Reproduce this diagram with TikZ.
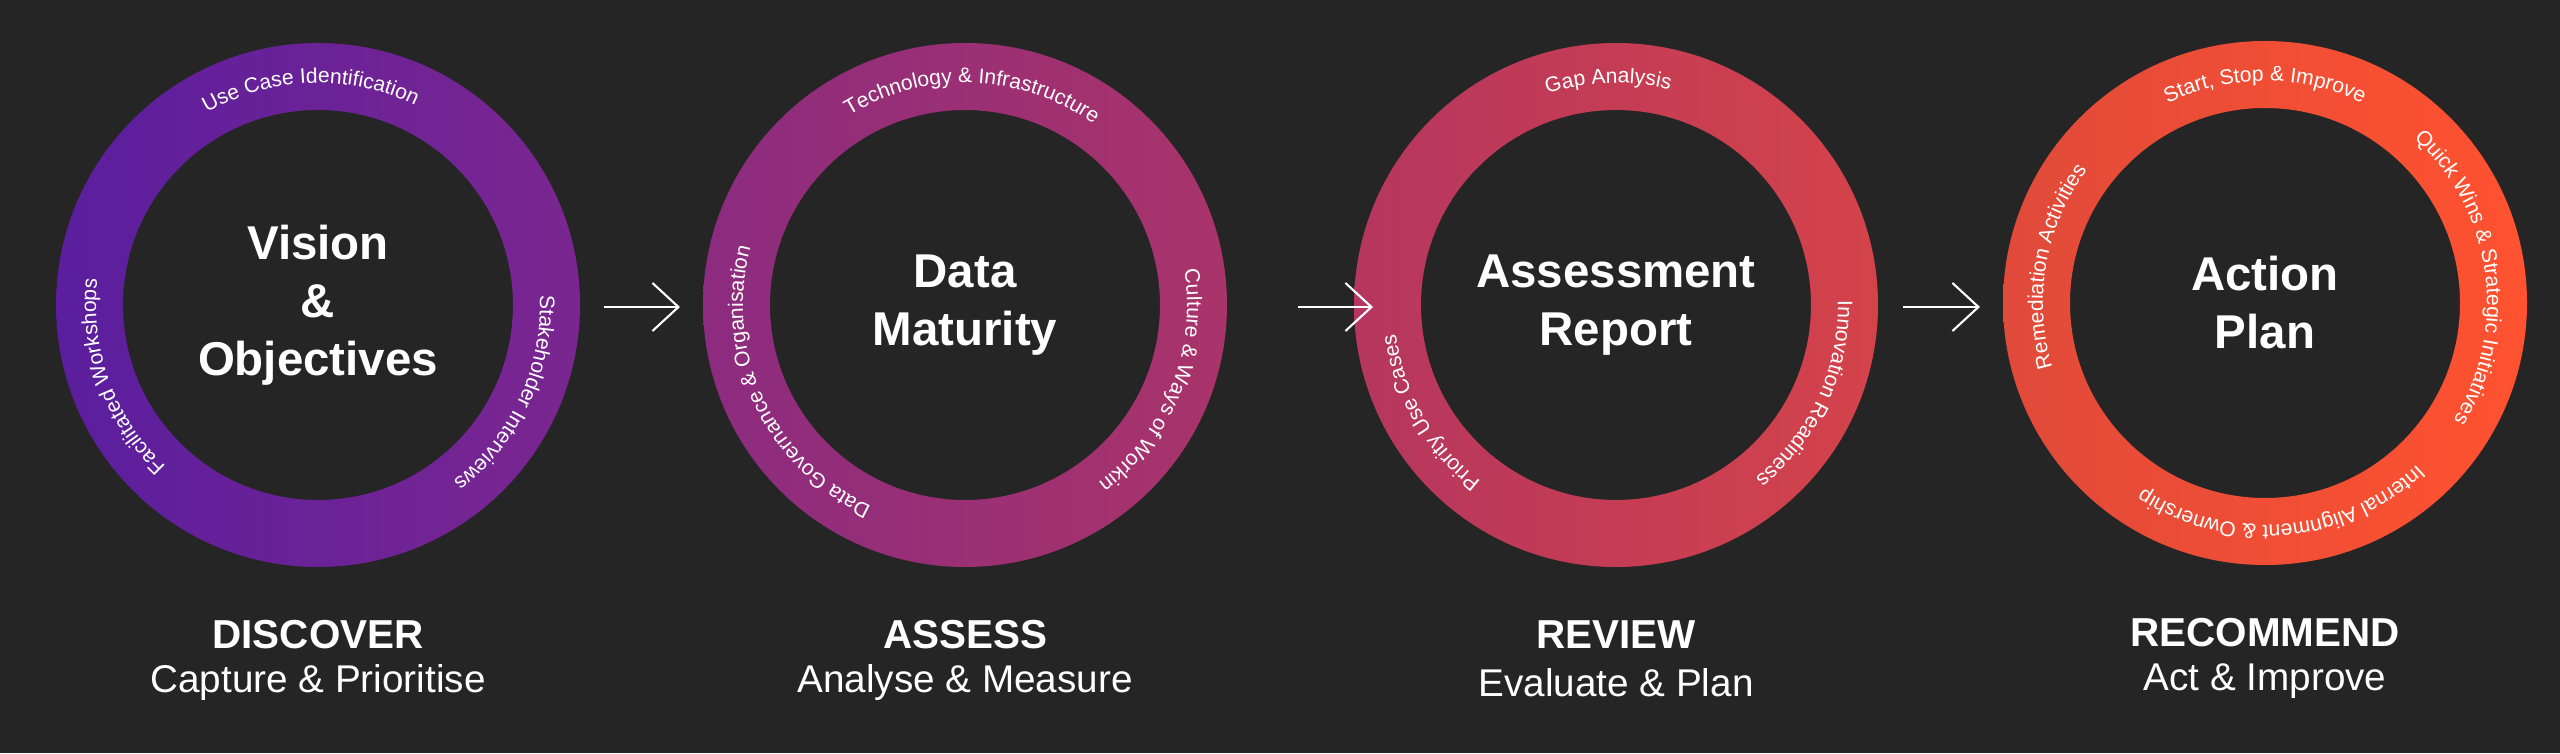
\documentclass[tikz,border=0pt]{standalone}
\usepackage{fontspec}
\setmainfont{Liberation Sans}
\usetikzlibrary{arrows.meta,decorations.text}
\definecolor{bg}{HTML}{252525}
\definecolor{r1l}{HTML}{5A1E9E}\definecolor{r1r}{HTML}{7B2690}
\definecolor{r2l}{HTML}{8C2B7F}\definecolor{r2r}{HTML}{A9346A}
\definecolor{r3l}{HTML}{B5365E}\definecolor{r3r}{HTML}{D4434A}
\definecolor{r4l}{HTML}{E04A3A}\definecolor{r4r}{HTML}{FF5230}
\tikzset{
  stepname/.style={text=white, font=\fontsize{11.5}{13}\selectfont\bfseries},
  stepsub/.style={text=white, font=\fontsize{11}{13}\selectfont},
  centretext/.style={text=white, align=center, font=\fontsize{13.5}{16.5}\selectfont\bfseries},
  flow/.style={white, line width=0.6pt, -{Straight Barb[length=0.26cm,width=0.48cm,line width=0.6pt]}}
}
\newcommand\ringfont{\fontsize{6}{7}\selectfont}
% ring with a horizontal gradient
\newcommand\drawring[3]{%
  \shade[left color=#2, right color=#3, even odd rule] (#1) circle (2.62) (#1) circle (1.95);}
% text on the ring, clockwise, centred at an angle
\newcommand\ringlabel[3]{%
  \pgfmathsetmacro\angA{#2+75}\pgfmathsetmacro\angB{#2-75}%
  \path[decorate, decoration={text along path, text align=center, text color=white, text={|\ringfont|#3}}]
    ([shift={(\angA:2.22)}]#1) arc[start angle=\angA, end angle=\angB, radius=2.22];}

\begin{document}
\begin{tikzpicture}
\fill[bg] (0,0) rectangle (25.6,7.53);
\useasboundingbox (0,0) rectangle (25.6,7.53);

\coordinate (c1) at (3.18,4.48);
\coordinate (c2) at (9.65,4.48);
\coordinate (c3) at (16.16,4.48);
\coordinate (c4) at (22.65,4.50);

\drawring{c1}{r1l}{r1r}
\drawring{c2}{r2l}{r2r}
\drawring{c3}{r3l}{r3r}
\drawring{c4}{r4l}{r4r}

\ringlabel{c1}{92}{Use Case Identification}
\ringlabel{c1}{-25}{Stakeholder Interviews}
\ringlabel{c1}{200}{Facilitated Workshops}
\ringlabel{c2}{88}{Technology {\&} Infrastructure}
\ringlabel{c2}{-22}{Culture {\&} Ways of Workin}
\ringlabel{c2}{205}{Data Governance {\&} Organisation}
\ringlabel{c3}{92}{Gap Analysis}
\ringlabel{c3}{-25}{Innovation Readiness}
\ringlabel{c3}{210}{Priority Use Cases}
\ringlabel{c4}{90}{Start, Stop {\&} Improve}
\ringlabel{c4}{8}{Quick Wins {\&} Strategic Initiatives}
\ringlabel{c4}{-85}{Internal Alignment {\&} Ownership}
\ringlabel{c4}{170}{Remediation Activities}

\node (t1) [centretext] at (c1) {Vision\\\&\\Objectives};
\node (t2) [centretext] at (c2) {Data\\Maturity};
\node (t3) [centretext] at (c3) {Assessment\\Report};
\node (t4) [centretext] at (c4) {Action\\Plan};

\node (n1) [stepname] at (3.18,1.18) {DISCOVER};
\node (s1) [stepsub] at (3.18,0.70) {Capture \& Prioritise};
\node (n2) [stepname] at (9.65,1.18) {ASSESS};
\node (s2) [stepsub] at (9.65,0.70) {Analyse \& Measure};
\node (n3) [stepname] at (16.16,1.18) {REVIEW};
\node (s3) [stepsub] at (16.16,0.70) {Evaluate \& Plan};
\node (n4) [stepname] at (22.65,1.20) {RECOMMEND};
\node (s4) [stepsub] at (22.65,0.72) {Act \& Improve};

\coordinate (a1s) at (6.04,4.46);  \coordinate (a1e) at (6.80,4.46);
\coordinate (a2s) at (12.98,4.46); \coordinate (a2e) at (13.73,4.46);
\coordinate (a3s) at (19.03,4.46); \coordinate (a3e) at (19.80,4.46);
\draw [flow] (a1s) -- (a1e);
\draw [flow] (a2s) -- (a2e);
\draw [flow] (a3s) -- (a3e);
\end{tikzpicture}
\end{document}
